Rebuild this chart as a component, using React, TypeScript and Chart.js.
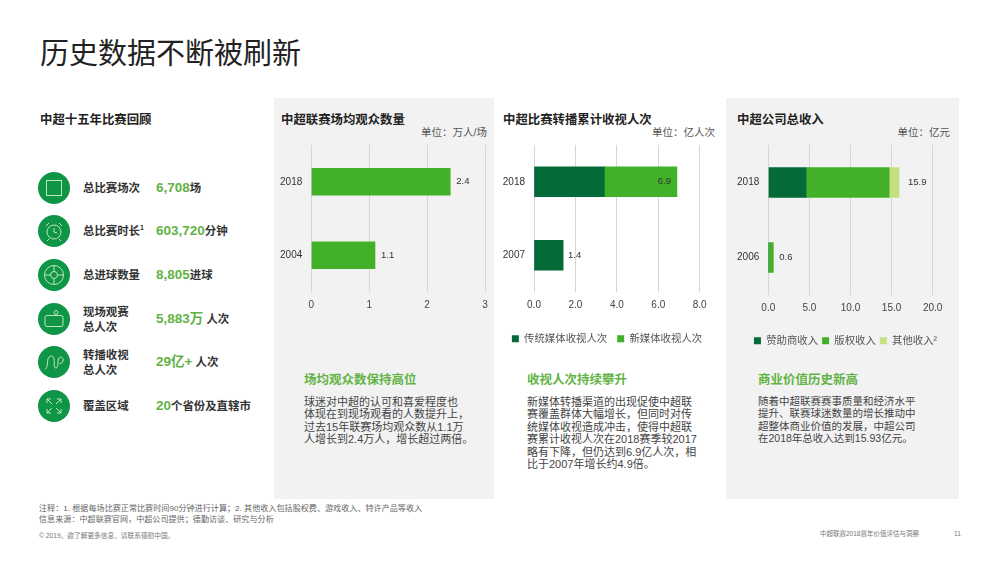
import React, { useEffect, useRef } from "react";
import { Chart, registerables } from "chart.js";

Chart.register(...registerables);

const FONT = '"Liberation Sans","Noto Sans CJK SC",sans-serif';
const DARK = "#046a38";
const MID = "#43b02a";
const LIGHT = "#c5e07e";

// Chart 1
const attendanceYears = ["2018", "2004"];
const attendanceValues = [2.4, 1.1];
const attendanceLabels = ["2.4", "1.1"];
// Chart 2
const viewerYears = ["2018", "2007"];
const viewerTraditional = [3.4, 1.4];
const viewerNewMedia = [3.5, 0];
const viewerLabels = ["6.9", "1.4"];
// Chart 3
const revenueYears = ["2018", "2006"];
const revenueSponsor = [4.6, 0];
const revenueRights = [10.1, 0.6];
const revenueOther = [1.2, 0];
const revenueLabels = ["15.9", "0.6"];

const stats = [
  { label: ["总比赛场次"], value: "6,708", suffix: "场", icon: "square" },
  { label: ["总比赛时长"], sup: "1", value: "603,720", suffix: "分钟", icon: "clock" },
  { label: ["总进球数量"], value: "8,805", suffix: "进球", icon: "ball" },
  { label: ["现场观赛", "总人次"], value: "5,883万", suffix: " 人次", icon: "bag" },
  { label: ["转播收视", "总人次"], value: "29亿+", suffix: " 人次", icon: "wave" },
  { label: ["覆盖区域"], value: "20", suffix: "个省份及直辖市", icon: "expand" },
];

type Spec = {
  left: number; top: number; width: number; height: number;
  yWidth: number; xHeight: number; padTop: number; spacer: number; legendPad: number;
  max: number; step: number; decimals: number; legend: boolean;
  categories: string[]; labels: string[]; inside?: boolean[]; offsets: number[];
  datasets: { label: string; data: number[]; backgroundColor: string }[];
  barThickness: number;
};

const specs: Spec[] = [
  {
    left: 276, top: 130, width: 222, height: 193, yWidth: 35.3, xHeight: 31, padTop: 10.5, spacer: 13, legendPad: 10,
    max: 3, step: 1, decimals: 0, legend: false, categories: attendanceYears, labels: attendanceLabels,
    offsets: [6, 6], barThickness: 27,
    datasets: [{ label: "场均观众", data: attendanceValues, backgroundColor: MID }],
  },
  {
    left: 492, top: 130, width: 230, height: 224, yWidth: 42, xHeight: 31.6, padTop: 10.5, spacer: 22.3, legendPad: 10,
    max: 8, step: 2, decimals: 1, legend: true, categories: viewerYears, labels: viewerLabels,
    inside: [true, false], offsets: [6, 5], barThickness: 30,
    datasets: [
      { label: "传统媒体收视人次", data: viewerTraditional, backgroundColor: DARK },
      { label: "新媒体收视人次", data: viewerNewMedia, backgroundColor: MID },
    ],
  },
  {
    left: 733, top: 130, width: 225, height: 226, yWidth: 35.3, xHeight: 36.6, padTop: 10.5, spacer: 25.3, legendPad: 4,
    max: 20, step: 5, decimals: 1, legend: true, categories: revenueYears, labels: revenueLabels,
    offsets: [9, 6], barThickness: 30,
    datasets: [
      { label: "赞助商收入", data: revenueSponsor, backgroundColor: DARK },
      { label: "版权收入", data: revenueRights, backgroundColor: MID },
      { label: "其他收入²", data: revenueOther, backgroundColor: LIGHT },
    ],
  },
];

function BarChart({ spec }: { spec: Spec }) {
  const ref = useRef<HTMLCanvasElement>(null);
  useEffect(() => {
    const valueLabels = {
      id: "valueLabels",
      afterDatasetsDraw(chart: any) {
        const { ctx, scales } = chart;
        ctx.save();
        ctx.font = `9.5px ${FONT}`;
        ctx.fillStyle = "#333333";
        ctx.textBaseline = "middle";
        spec.labels.forEach((text, i) => {
          const total = spec.datasets.reduce((s, d) => s + d.data[i], 0);
          const x = scales.x.getPixelForValue(total);
          const y = scales.y.getPixelForTick(i);
          const inside = spec.inside?.[i];
          ctx.textAlign = inside ? "right" : "left";
          ctx.fillText(text, inside ? x - spec.offsets[i] : x + spec.offsets[i], y);
        });
        ctx.restore();
      },
    };
    const chart = new Chart(ref.current!, {
      type: "bar",
      data: {
        labels: spec.categories,
        datasets: spec.datasets.map((d) => ({ ...d, barThickness: spec.barThickness, borderWidth: 0 })),
      },
      plugins: [valueLabels],
      options: {
        indexAxis: "y",
        responsive: false,
        animation: false,
        layout: { padding: { top: spec.padTop, right: 0, left: 0, bottom: 0 } },
        plugins: {
          tooltip: { enabled: false },
          legend: {
            display: spec.legend,
            position: "bottom",
            labels: {
              boxWidth: 7, boxHeight: 7, padding: spec.legendPad,
              color: "#555555",
              font: { family: FONT, size: 10.4 },
            },
          },
        },
        scales: {
          x: {
            stacked: true,
            min: 0,
            max: spec.max,
            grid: { color: "#d6d6d6", lineWidth: 1, drawTicks: false },
            border: { display: false },
            ticks: {
              stepSize: spec.step,
              padding: 7,
              maxRotation: 0,
              color: "#444444",
              font: { family: FONT, size: 10 },
              callback: (v: any) => Number(v).toFixed(spec.decimals),
            },
            afterFit: (s: any) => { s.height = spec.xHeight; },
          },
          y: {
            stacked: true,
            grid: { display: false, drawTicks: false },
            border: { display: false },
            ticks: { padding: 9, color: "#333333", font: { family: FONT, size: 10 } },
            afterFit: (s: any) => { s.width = spec.yWidth; },
          },
          spacer: {
            axis: "y",
            type: "linear",
            position: "right",
            grid: { display: false, drawTicks: false },
            border: { display: false },
            ticks: { display: false },
            afterFit: (s: any) => { s.width = spec.spacer; },
          },
        },
      } as any,
    });
    return () => chart.destroy();
  }, [spec]);
  return (
    <canvas
      ref={ref}
      width={spec.width}
      height={spec.height}
      style={{ position: "absolute", left: spec.left, top: spec.top, width: spec.width, height: spec.height }}
    />
  );
}

function Icon({ name }: { name: string }) {
  const c = { fill: "none", stroke: "#bfe6b8", strokeWidth: 1 } as const;
  return (
    <svg width="32" height="32" viewBox="0 0 32 32" style={{ position: "absolute", left: 0, top: 0 }}>
      <circle cx="16" cy="16" r="16" fill="#0f9548" />
      {name === "square" && <rect x="8.5" y="8.5" width="15" height="15" {...c} />}
      {name === "clock" && (
        <g {...c}>
          <circle cx="16" cy="17" r="7" />
          <path d="M16 13v4l3 1M8 11l3-3M24 11l-3-3M11 24l-2 2M21 24l2 2" />
        </g>
      )}
      {name === "ball" && (
        <g {...c}>
          <circle cx="16" cy="16" r="9.5" />
          <circle cx="16" cy="16" r="3.5" />
          <path d="M16 6.5v6M6.5 16h6M25.5 16h-6M16 25.5v-6" />
        </g>
      )}
      {name === "bag" && (
        <g {...c}>
          <rect x="7" y="12.5" width="18" height="11" rx="2" />
          <circle cx="18" cy="9.5" r="2" />
        </g>
      )}
      {name === "wave" && (
        <g {...c}>
          <path d="M7 23c3-1 2-6 3-10s5-4 6 0-1 9 2 9 1-8 3-10 5 0 4 3-3 3-4 2" />
        </g>
      )}
      {name === "expand" && (
        <g {...c}>
          <path d="M9 9l5 5M9 9h4M9 9v4M23 9l-5 5M23 9h-4M23 9v4M9 23l5-5M9 23h4M9 23v-4M23 23l-5-5M23 23h-4M23 23v-4" />
        </g>
      )}
    </svg>
  );
}

function T({ x, y, children, size = 11, color = "#333", bold = false, right = false, lh, width }: any) {
  return (
    <div
      style={{
        position: "absolute",
        top: y,
        ...(right ? { right: 1000 - x } : { left: x }),
        ...(width ? { width } : {}),
        fontSize: size,
        color,
        fontWeight: bold ? 700 : 400,
        lineHeight: lh ? `${lh}px` : 1,
        whiteSpace: "pre",
      }}
    >
      {children}
    </div>
  );
}

const GREEN_TEXT = "#62b346";

export default function App() {
  const statY = [188, 231, 275, 319, 362, 406];
  return (
    <div style={{ position: "absolute", left: 0, top: 0, width: 1000, height: 562, overflow: "hidden", background: "#fff", fontFamily: FONT }}>
      <div style={{ position: "absolute", left: 274, top: 98, width: 220, height: 401, background: "#f2f2f2" }} />
      <div style={{ position: "absolute", left: 726, top: 98, width: 233, height: 401, background: "#f2f2f2" }} />

      <T x={40} y={40} size={29} color="#222">历史数据不断被刷新</T>

      <T x={40} y={114} size={12.4} bold color="#222">中超十五年比赛回顾</T>
      {stats.map((s, i) => (
        <React.Fragment key={i}>
          <div style={{ position: "absolute", left: 38, top: statY[i] - 16, width: 32, height: 32 }}>
            <Icon name={s.icon} />
          </div>
          <T x={83} y={statY[i] - (s.label.length === 2 ? 14 : 7)} size={11.4} lh={s.label.length === 2 ? 15 : 14} color="#333" bold>
            {s.label.join("\n")}
            {s.sup ? <sup style={{ fontSize: 7, lineHeight: 0 }}>{s.sup}</sup> : null}
          </T>
          <div style={{ position: "absolute", left: 156, top: statY[i] - 9, height: 18, lineHeight: "18px", whiteSpace: "pre", fontSize: 11.4, color: "#333", fontWeight: 700 }}>
            <span style={{ color: GREEN_TEXT, fontSize: 13.5 }}>{s.value}</span>
            {s.suffix}
          </div>
        </React.Fragment>
      ))}

      <T x={281} y={114} size={12.4} bold color="#222">中超联赛场均观众数量</T>
      <T x={487} y={127} size={10.5} color="#555" right>单位：万人/场</T>
      <T x={503} y={114} size={12.4} bold color="#222">中超比赛转播累计收视人次</T>
      <T x={715} y={127} size={10.5} color="#555" right>单位：亿人次</T>
      <T x={737} y={114} size={12.4} bold color="#222">中超公司总收入</T>
      <T x={950} y={127} size={10.5} color="#555" right>单位：亿元</T>

      {specs.map((s, i) => <BarChart key={i} spec={s} />)}

      <T x={304} y={374} size={12.5} bold color={GREEN_TEXT}>场均观众数保持高位</T>
      <T x={304} y={396} size={11} lh={12.4} color="#444">{"球迷对中超的认可和喜爱程度也\n体现在到现场观看的人数提升上，\n过去15年联赛场均观众数从1.1万\n人增长到2.4万人，增长超过两倍。"}</T>

      <T x={527} y={374} size={12.5} bold color={GREEN_TEXT}>收视人次持续攀升</T>
      <T x={527} y={396} size={11} lh={12.4} color="#444">{"新媒体转播渠道的出现促使中超联\n赛覆盖群体大幅增长，但同时对传\n统媒体收视造成冲击，使得中超联\n赛累计收视人次在2018赛季较2017\n略有下降，但仍达到6.9亿人次，相\n比于2007年增长约4.9倍。"}</T>

      <T x={758} y={374} size={12.5} bold color={GREEN_TEXT}>商业价值历史新高</T>
      <T x={758} y={395} size={10.5} lh={12.4} color="#444">{"随着中超联赛赛事质量和经济水平\n提升、联赛球迷数量的增长推动中\n超整体商业价值的发展，中超公司\n在2018年总收入达到15.93亿元。"}</T>

      <T x={39} y={505} size={8.1} color="#666">注释：1. 根据每场比赛正常比赛时间90分钟进行计算；2. 其他收入包括股权费、游戏收入、特许产品等收入</T>
      <T x={39} y={516} size={8.1} color="#666">信息来源：中超联赛官网，中超公司提供；德勤访谈、研究与分析</T>
      <T x={39} y={533} size={6.7} color="#777">© 2019。欲了解更多信息，请联系德勤中国。</T>
      <T x={820} y={531} size={6.5} color="#777">中超联赛2018赛年价值评估与洞察</T>
      <T x={954} y={531} size={6.5} color="#777">11</T>
    </div>
  );
}
